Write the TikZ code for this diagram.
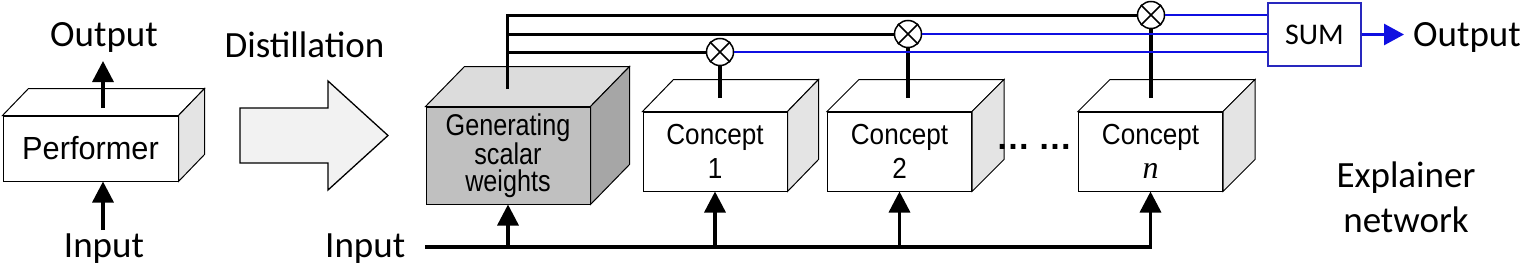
\documentclass[tikz,border=0pt]{standalone}
\usepackage{fontspec}
\usepackage{graphicx}
\setmainfont{Carlito}
\newfontfamily\arialf{Liberation Sans}
\newfontfamily\timesf{Liberation Serif}
\usetikzlibrary{arrows.meta,calc}
\definecolor{wblue}{RGB}{15,15,225}
\definecolor{sumblue}{RGB}{40,40,190}
\definecolor{genfront}{RGB}{192,192,192}
\definecolor{gentop}{RGB}{220,220,220}
\definecolor{genside}{RGB}{166,166,166}
\definecolor{lside}{RGB}{228,228,228}
\definecolor{distfill}{RGB}{242,242,242}
\newcommand\cubefaces[4]{%
  \filldraw[face, fill=#3] (#1.north west) -- ++(#2) -- ($(#1.north east)+(#2)$) -- (#1.north east) -- cycle;
  \filldraw[face, fill=#4] (#1.north east) -- ($(#1.north east)+(#2)$) -- ($(#1.south east)+(#2)$) -- (#1.south east) -- cycle;}
\begin{document}
\begin{tikzpicture}[x=1pt,y=-1pt,
  face/.style={draw, line width=1pt},
  box/.style={face, inner sep=0pt, align=center},
  wire/.style={line width=3pt},
  bwire/.style={wblue, line width=2.6pt},
  arr/.style={line width=3.4pt, -{Triangle[width=21pt,length=21pt]}},
  barr/.style={wblue, line width=2.8pt, -{Triangle[width=21pt,length=20pt]}},
  mult/.style={circle, draw, line width=1.5pt, minimum size=27pt, inner sep=0pt, fill=white},
  lbl/.style={font=\fontsize{37}{45}\selectfont, inner sep=0pt}]
\useasboundingbox (0,0) rectangle (1526,265);

% ---------- Performer ----------
\node[box, fill=white, minimum width=175pt, minimum height=65pt,
      font=\arialf\fontsize{32}{34}\selectfont] (perf) at (90.5,148.5) {\scalebox{0.96}[1]{Performer}};
\cubefaces{perf}{26,-27}{white}{lside}
\coordinate (perfIn) at (103,230);
\coordinate (perfTop) at (103,108);
\coordinate (perfOut) at (103,61);
\draw[arr] (perfIn) -- (perfIn |- perf.south);
\draw[arr] (perfTop) -- (perfOut);
\node[lbl, anchor=base] (outL) at (104,46) {Output};
\node[lbl, anchor=base] (inL) at (104,257) {Input};

% ---------- Distillation ----------
\node[lbl, anchor=base] (dist) at (304.5,57) {Distillation};
\filldraw[fill=distfill, line width=1.3pt, line join=miter]
  (240,108) -- (328,108) -- (328,81) -- (388,135.5) -- (328,190) -- (328,163) -- (240,163) -- cycle;

% ---------- Explainer ----------
\node[box, fill=genfront, minimum width=164pt, minimum height=97pt,
      font=\arialf\fontsize{30}{27}\selectfont] (gen) at (508,155.5)
      {\scalebox{0.84}[1]{Generating}\\\scalebox{0.84}[1]{scalar}\\\scalebox{0.84}[1]{weights}};
\cubefaces{gen}{39,-40}{gentop}{genside}

\node[box, fill=white, minimum width=144pt, minimum height=79pt,
      font=\arialf\fontsize{29}{34}\selectfont] (c1) at (715,151.5)
      {\scalebox{0.9}[1]{Concept}\\\scalebox{0.9}[1]{1}};
\cubefaces{c1}{31,-32}{white}{lside}
\node[box, fill=white, minimum width=144pt, minimum height=79pt,
      font=\arialf\fontsize{29}{34}\selectfont] (c2) at (899.5,151.5)
      {\scalebox{0.9}[1]{Concept}\\\scalebox{0.9}[1]{2}};
\cubefaces{c2}{32,-32}{white}{lside}
\node[box, fill=white, minimum width=144pt, minimum height=79pt,
      font=\arialf\fontsize{29}{34}\selectfont] (cn) at (1150.5,151.5)
      {\scalebox{0.9}[1]{Concept}\\{\timesf\itshape\fontsize{32}{34}\selectfont n}};
\cubefaces{cn}{32,-32}{white}{lside}

\node[inner sep=0pt, anchor=base, font=\arialf\bfseries\fontsize{34}{34}\selectfont] (dots) at (1034,149) {\ldots\hspace{8pt}\ldots};

% multipliers
\node[mult] (m1) at (720,52) {};
\node[mult] (m2) at (908,34) {};
\node[mult] (mn) at (1151,15) {};

% SUM
\node[draw=sumblue, line width=1.3pt, minimum width=93pt, minimum height=63pt, inner sep=0pt,
      font=\fontsize{30}{30}\selectfont] (sum) at (1314.5,34.5) {SUM};
\node[lbl, anchor=base west] (out2) at (1413,46) {Output};

% weight wires
\coordinate (gtop) at (507,89);
\draw[wire] (gtop) |- (mn.west);
\draw[wire] (gtop |- m2.west) -- (m2.west);
\draw[wire] (gtop |- m1.west) -- (m1.west);

% concept outputs to multipliers
\coordinate (c1t) at (720,98);
\coordinate (c2t) at (908,98);
\coordinate (cnt) at (1151,98);
\draw[line width=3.2pt] (c1t) -- (m1.south);
\draw[line width=3.2pt] (c2t) -- (m2.south);
\draw[line width=3.2pt] (cnt) -- (mn.south);

\foreach \m in {m1,m2,mn}{
  \draw[line width=1.5pt] (\m.north west) -- (\m.south east) (\m.north east) -- (\m.south west);}

% blue wires to SUM
\draw[bwire] (m1.east) -- (m1.east -| sum.west);
\draw[bwire] (m2.east) -- (m2.east -| sum.west);
\draw[bwire] (mn.east) -- (mn.east -| sum.west);
\draw[barr, shorten >=9pt] (sum.east) -- (sum.east -| out2.west);

% input bus
\node[lbl, anchor=base west] (in2) at (325,257) {Input};
\coordinate (inS) at (425,247);
\draw[arr] (inS) -| (cn.south);
\draw[arr] (inS -| gen.south) -- (gen.south);
\draw[arr] (inS -| c1.south) -- (c1.south);
\draw[arr] (inS -| c2.south) -- (c2.south);

\node[lbl, align=center] (expl) at (1406,197) {Explainer\\network};
\end{tikzpicture}
\end{document}
